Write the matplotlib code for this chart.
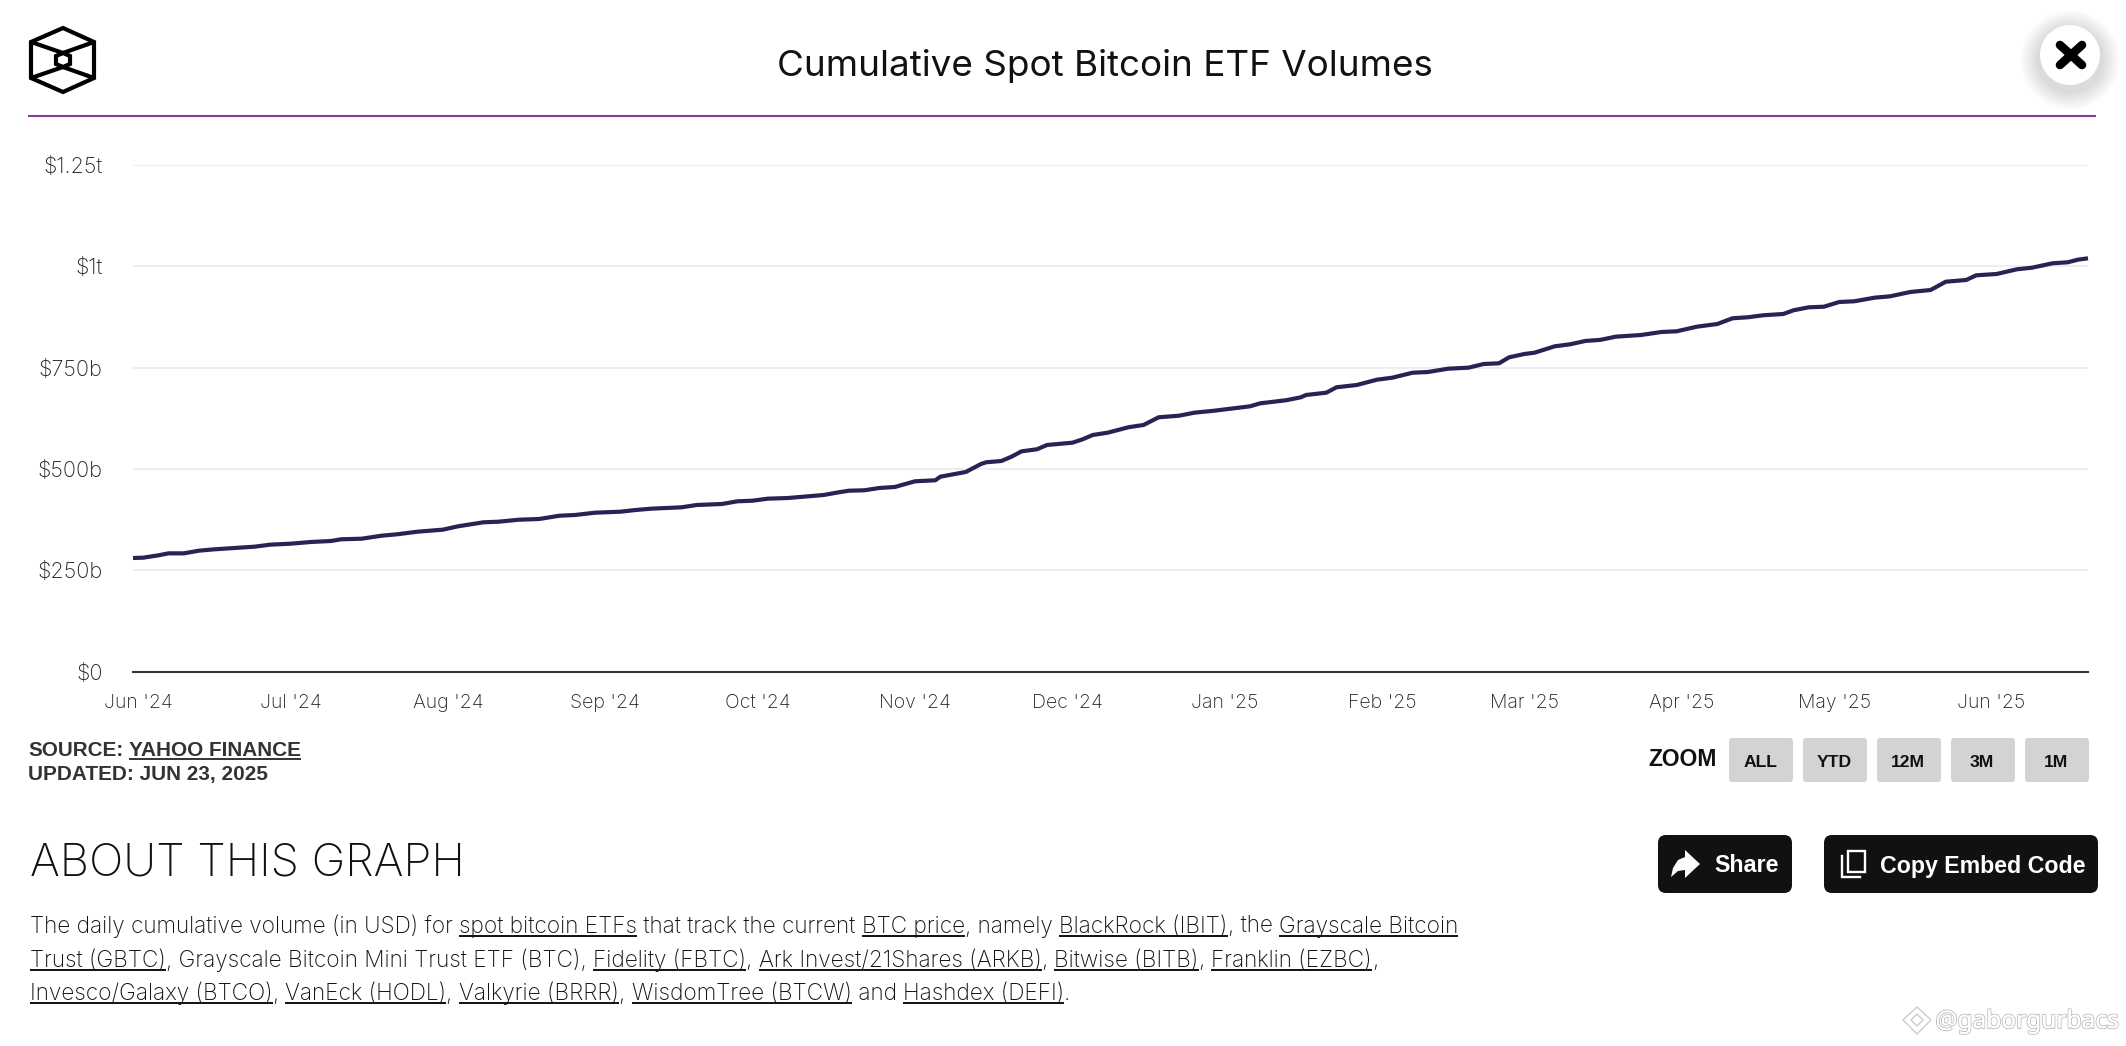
import datetime as dt
import matplotlib
matplotlib.use("Agg")
import matplotlib.pyplot as plt
import matplotlib.dates as mdates
import matplotlib.patheffects as pe
from matplotlib.patches import Circle, FancyBboxPatch, Polygon, Rectangle

# ---------- data ----------
START_DATE = "2024-06-01"
day_offsets = [
    -1, 1, 4, 6, 9, 12, 15, 18, 23, 26, 30, 34, 38, 40, 44, 48, 51, 55, 60, 63,
    68, 71, 75, 79, 83, 86, 90, 95, 98, 101, 107, 110, 115, 118, 121, 124, 128,
    132, 135, 138, 140, 143, 146, 149, 153, 157, 158, 163, 164, 166, 167, 170,
    172, 174, 177, 179, 184, 186, 188, 191, 195, 198, 201, 205, 208, 212, 219,
    221, 226, 229, 230, 234, 236, 240, 244, 247, 251, 254, 258, 262, 265, 268,
    270, 273, 275, 279, 282, 285, 288, 291, 296, 300, 303, 307, 311, 314, 317,
    320, 324, 326, 329, 332, 335, 338, 342, 345, 349, 353, 356, 360, 362, 366,
    370, 373, 377, 380, 382, 384,
]
cumulative_volume_b = [
    280.1, 280.9, 286.7, 291.6, 291.6, 298.2, 301.5, 304.0, 308.1, 313.0, 315.4,
    319.6, 322.1, 326.3, 327.7, 335.2, 338.6, 345.0, 350.0, 358.3, 368.2, 369.7,
    374.6, 376.4, 384.5, 386.2, 391.9, 394.4, 398.6, 401.8, 405.2, 410.9, 413.4,
    420.0, 421.5, 426.5, 428.2, 432.4, 435.6, 442.3, 446.2, 447.2, 452.9, 455.3,
    469.4, 471.9, 480.8, 492.4, 499.0, 512.1, 516.3, 519.5, 530.1, 543.4, 548.4,
    559.0, 564.7, 573.0, 583.7, 589.5, 602.7, 608.4, 627.4, 631.3, 638.7, 643.7,
    654.5, 661.9, 669.3, 676.7, 682.4, 688.1, 701.4, 707.1, 720.2, 725.1, 737.4,
    739.1, 747.3, 749.8, 758.9, 760.6, 775.4, 783.6, 786.8, 802.6, 807.5, 815.7,
    818.5, 826.3, 830.5, 837.9, 839.6, 851.0, 857.6, 871.7, 874.2, 879.1, 882.3,
    891.4, 898.8, 900.3, 911.9, 913.7, 922.6, 925.9, 936.6, 941.5, 962.0, 966.2,
    977.8, 981.0, 992.6, 996.6, 1007.4, 1009.9, 1016.3, 1019.8,
]
y_ticks = [0, 250, 500, 750, 1000, 1250]
y_tick_labels = ["$0", "$250b", "$500b", "$750b", "$1t", "$1.25t"]
x_tick_dates = ["2024-06-01", "2024-07-01", "2024-08-01", "2024-09-01", "2024-10-01",
                "2024-11-01", "2024-12-01", "2025-01-01", "2025-02-01", "2025-03-01",
                "2025-04-01", "2025-05-01", "2025-06-01"]
x_tick_labels = ["Jun '24", "Jul '24", "Aug '24", "Sep '24", "Oct '24", "Nov '24", "Dec '24",
                 "Jan '25", "Feb '25", "Mar '25", "Apr '25", "May '25", "Jun '25"]
zoom_buttons = ["ALL", "YTD", "12M", "3M", "1M"]

W, H = 2126, 1046
UI = ["Inter", "Lato", "DejaVu Sans"]
BOLD = ["Liberation Sans", "DejaVu Sans"]

fig = plt.figure(figsize=(W / 100, H / 100), dpi=100, facecolor="white")

# ---------- chart ----------
L, R, T, B = 133, 2088, 165, 671.5
ax = fig.add_axes([L / W, 1 - B / H, (R - L) / W, (B - T) / H])
ax.patch.set_alpha(0)
start = dt.date.fromisoformat(START_DATE)
dates = [start + dt.timedelta(days=d) for d in day_offsets]
ax.plot(dates, cumulative_volume_b, color="#2a2255", lw=3.0, solid_joinstyle="round",
        solid_capstyle="butt", zorder=3, clip_on=False)
ax.set_xlim(dates[0], dates[-1])
ax.set_ylim(0, 1250)
ax.set_yticks(y_ticks, y_tick_labels, family=UI, fontsize=15.6, color="#222222", fontweight="light")
ax.set_xticks([mdates.date2num(dt.date.fromisoformat(d)) for d in x_tick_dates], x_tick_labels,
              family=UI, fontsize=14.0, color="#222222", fontweight="light")
ax.tick_params(axis="y", length=0, pad=22)
ax.tick_params(axis="x", length=0, pad=26.5)
for lab in ax.get_xticklabels():
    lab.set_verticalalignment("baseline")
ax.grid(axis="y", color="#eeeeee", lw=1.4, zorder=0)
ax.set_axisbelow(True)
for s in ("top", "right", "left"):
    ax.spines[s].set_visible(False)
ax.spines["bottom"].set_color("#333333")
ax.spines["bottom"].set_linewidth(1.5)

# ---------- page furniture in pixel coordinates ----------
ov = fig.add_axes([0, 0, 1, 1], zorder=5)
ov.set_xlim(0, W)
ov.set_ylim(H, 0)
ov.axis("off")
ov.patch.set_alpha(0)
renderer = fig.canvas.get_renderer()


def width_of(s, **kw):
    """Rendered width in px, trailing spaces included."""
    a = ov.text(0, 0, s + "|", **kw)
    b = ov.text(0, 0, "|", **kw)
    w = a.get_window_extent(renderer).width - b.get_window_extent(renderer).width
    a.remove()
    b.remove()
    return w


def fit_size(s, target, **kw):
    return 20 * target / width_of(s, fontsize=20, **kw)


def fitted(s, x0, x1, y, ha="left", **kw):
    size = fit_size(s, x1 - x0, **kw)
    x = {"left": x0, "center": (x0 + x1) / 2}[ha]
    return ov.text(x, y, s, fontsize=size, ha=ha, va="center", **kw)


def rbox(x0, y0, x1, y1, r, color):
    ov.add_patch(FancyBboxPatch((x0 + r, y0 + r), x1 - x0 - 2 * r, y1 - y0 - 2 * r,
                                boxstyle=f"round,pad={r},rounding_size={r}",
                                fc=color, ec="none"))


# logo
lw_logo = 3.0
hex_out = [(63, 28), (94, 42), (94, 78), (63, 92), (31, 78), (31, 42)]
hex_in = [(63, 53), (70, 56), (70, 64), (63, 67), (56, 64), (56, 56)]
ov.add_patch(Polygon(hex_out, closed=True, fc="none", ec="black", lw=lw_logo, joinstyle="miter"))
ov.add_patch(Polygon(hex_in, closed=True, fc="none", ec="black", lw=lw_logo, joinstyle="miter"))
for (a, b) in [((31, 42), (63, 53)), ((94, 42), (63, 53)), ((31, 78), (63, 67)), ((94, 78), (63, 67))]:
    ov.plot([a[0], b[0]], [a[1], b[1]], color="black", lw=lw_logo, solid_capstyle="butt")

# title and rule
fitted("Cumulative Spot Bitcoin ETF Volumes", 777, 1432, 66, ha="center", family=UI, color="#111111")
ov.plot([28, 2096], [116, 116], color="#8a3a9a", lw=1.5, solid_capstyle="butt")

# close button
for k in range(18):
    ov.add_patch(Circle((2070, 60), 30 + 20 - k, fc="black", ec="none", alpha=0.009))
ov.add_patch(Circle((2070, 55), 30, fc="white", ec="none"))
for dy in (1, -1):
    ov.plot([2060, 2082], [55 - 10 * dy, 55 + 10 * dy], color="black", lw=6.2, solid_capstyle="round")

# source
fitted("SOURCE:", 28, 123, 751, family=BOLD, fontweight="bold", color="#333333")
fitted("YAHOO FINANCE", 129, 301, 751, family=BOLD, fontweight="bold", color="#333333")
ov.plot([129, 301], [758.5, 758.5], color="#333333", lw=1.4, solid_capstyle="butt")
fitted("UPDATED: JUN 23, 2025", 28, 267, 774.5, family=BOLD, fontweight="bold", color="#333333")

# zoom buttons
fitted("ZOOM", 1648.5, 1717, 760, family=BOLD, fontweight="bold", color="#111111")
bx = [(1729, 1793), (1803, 1867), (1877, 1941), (1951, 2015), (2025, 2089)]
for (x0, x1), lab in zip(bx, zoom_buttons):
    rbox(x0, 738, x1, 782, 3, "#d3d3d3")
    ov.text((x0 + x1) / 2 - 1, 762.5, lab, family=BOLD, fontweight="bold", fontsize=12.6,
            color="#111111", ha="center", va="center")

# share / embed buttons
rbox(1658, 835, 1792, 893, 8, "#111111")
rbox(1824, 835, 2098, 893, 8, "#111111")
fitted("Share", 1714.5, 1779, 866, family=BOLD, fontweight="bold", color="white")
fitted("Copy Embed Code", 1880, 2085, 867, family=BOLD, fontweight="bold", color="white")
ov.add_patch(Polygon([(1700, 864), (1685, 850), (1685, 857), (1678, 860), (1673, 868), (1671, 877),
                      (1678, 871), (1685, 870), (1685, 878)], closed=True, fc="white", ec="none"))
ov.add_patch(Rectangle((1848, 851), 16.5, 21, fc="none", ec="white", lw=1.7))
ov.plot([1841.5, 1841.5, 1860], [856, 877, 877], color="white", lw=1.7, solid_joinstyle="miter")

# about section
fitted("ABOUT THIS GRAPH", 30, 465, 864, family=UI, fontweight="light", color="#111111")

body_lines = [
    [("The daily cumulative volume (in USD) for ", 0), ("spot bitcoin ETFs", 1),
     (" that track the current ", 0), ("BTC price", 1), (", namely ", 0),
     ("BlackRock (IBIT)", 1), (", the ", 0), ("Grayscale Bitcoin", 1)],
    [("Trust (GBTC)", 1), (", Grayscale Bitcoin Mini Trust ETF (BTC), ", 0), ("Fidelity (FBTC)", 1),
     (", ", 0), ("Ark Invest/21Shares (ARKB)", 1), (", ", 0), ("Bitwise (BITB)", 1), (", ", 0),
     ("Franklin (EZBC)", 1), (",", 0)],
    [("Invesco/Galaxy (BTCO)", 1), (", ", 0), ("VanEck (HODL)", 1), (", ", 0), ("Valkyrie (BRRR)", 1),
     (", ", 0), ("WisdomTree (BTCW)", 1), (" and ", 0), ("Hashdex (DEFI)", 1), (".", 0)],
]
body_kw = dict(family=UI, fontweight="light", color="#111111")
first = "".join(t for t, _ in body_lines[0])
body_size = fit_size(first, 1428, **body_kw)
for line, y in zip(body_lines, (932.5, 966.5, 1000)):
    x = 30
    for seg, link in line:
        ov.text(x, y, seg, fontsize=body_size, ha="left", va="baseline", **body_kw)
        w = width_of(seg, fontsize=body_size, **body_kw)
        if link:
            ov.plot([x, x + w], [y + 3, y + 3], color="#111111", lw=1.4, solid_capstyle="butt")
        x += w

# watermark
halo = [pe.withStroke(linewidth=1.4, foreground="#bdbdbd"), pe.Normal()]
fitted("@gaborgurbacs", 1935.5, 2118.5, 1022, family=["Noto Sans", "DejaVu Sans"], color="white",
       path_effects=halo)
ov.add_patch(Polygon([(1917, 1007), (1931, 1020), (1917, 1034), (1903, 1020)], closed=True,
                     fc="white", ec="#cccccc", lw=1.0))
ov.add_patch(Polygon([(1917, 1014), (1923, 1020), (1917, 1026), (1911, 1020)], closed=True,
                     fc="white", ec="#cccccc", lw=1.0))

fig.savefig("out.png", dpi=100, facecolor="white")
